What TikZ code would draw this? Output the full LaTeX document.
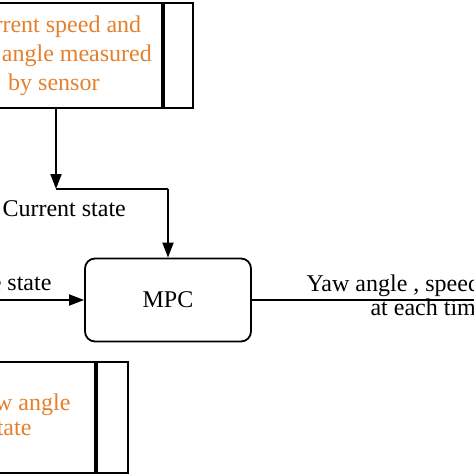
\documentclass[tikz,border=0pt]{standalone}
\usepackage{fontspec}
\setmainfont{Liberation Serif}
\usetikzlibrary{arrows.meta,positioning,calc}
\definecolor{labelorange}{RGB}{228,128,45}

\begin{document}
\begin{tikzpicture}[
    x=1pt, y=-1pt,
    every node/.style={font=\fontsize{24}{29}\selectfont},
    blockbox/.style={rectangle, draw, line width=1.8pt, inner sep=0pt, anchor=north west},
    ctrlbox/.style={rectangle, draw, line width=1.8pt, rounded corners=10pt, inner sep=0pt},
    flowline/.style={line width=1.8pt},
    flowarrow/.style={line width=1.8pt, -{Triangle[length=15pt, width=11pt]}},
]
\useasboundingbox (0,0) rectangle (474,474);
\clip (0,0) rectangle (474,474);

% ===== TOP: Sensor block =====
\node[blockbox, minimum width=216pt, minimum height=105pt, text=labelorange, align=center]
    (sensor) at (-55,2) {Current speed and\\yaw angle measured\\by sensor};
\node[blockbox, minimum width=29pt, minimum height=105pt] (sensorside) at (sensor.north east) {};

% ===== MIDDLE: Controller =====
\node[ctrlbox, minimum width=166pt, minimum height=83pt] (mpc) at (168,300) {MPC};

% Current state feedback
\coordinate (join) at (56,189);
\coordinate (corner) at (mpc.north |- join);
\draw[flowarrow] (join |- sensor.south) -- (join);
\draw[flowline] (join) -- (corner);
\draw[flowarrow] (corner) -- (mpc.north);
\node[anchor=base west] (curlabel) at (-1,216) {Current state};

% Input from the left
\coordinate (instart) at (-5,300);
\draw[flowarrow] (instart) -- (mpc.west);
\node[anchor=base east] (inlabel) at (55,290) {e state};

% Output to the right
\coordinate (outend) at (480,300);
\draw[flowline] (mpc.east) -- (outend);
\node[anchor=base west] (outlabel) at (303,291) {Yaw angle , speed};
\node[anchor=base west] (outlabel2) at (367,315) {at each time};

% ===== BOTTOM: Yaw angle block =====
\node[blockbox, minimum width=154pt, minimum height=111pt] (yawbox) at (-60,361) {};
\node[blockbox, minimum width=31pt, minimum height=111pt] (yawside) at (yawbox.north east) {};
\node[anchor=base east, text=labelorange] (yawtxt) at (74,410) {Yaw angle};
\node[anchor=base east, text=labelorange] (statetxt) at (35,435) {state};

\end{tikzpicture}
\end{document}
